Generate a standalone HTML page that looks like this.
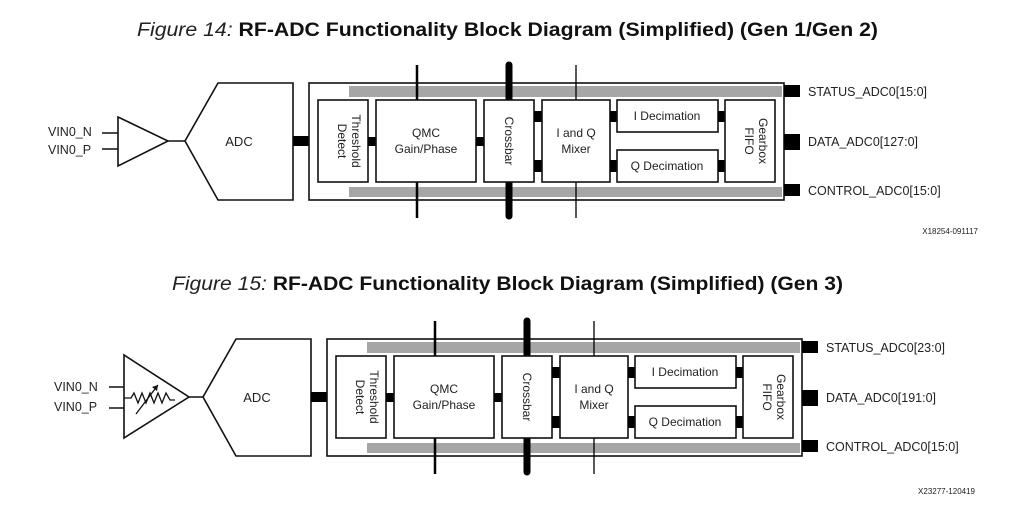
<!DOCTYPE html>
<html><head><meta charset="utf-8"><style>
html,body{margin:0;padding:0;background:#fff;}
svg{display:block;font-family:"Liberation Sans",sans-serif;}
</style></head><body>
<svg width="1014" height="507" viewBox="0 0 1014 507" xmlns="http://www.w3.org/2000/svg">
<defs>
<g id="blk">
  <path d="M185,141 L218,83 L293,83 L293,200 L218,200 Z" fill="#fff" stroke="#111" stroke-width="1.6"/>
  <text x="239" y="146" font-size="13" text-anchor="middle" fill="#222">ADC</text>
  <rect x="293" y="136" width="17" height="10" fill="#000"/>
  <rect x="309" y="83" width="475" height="117" fill="#fff" stroke="#111" stroke-width="1.6"/>
  <rect x="349" y="86" width="433" height="11" fill="#a6a6a6"/>
  <rect x="349" y="187" width="433" height="10" fill="#a6a6a6"/>
  <line x1="417" y1="65" x2="417" y2="218" stroke="#000" stroke-width="2.5"/>
  <line x1="509" y1="65" x2="509" y2="216" stroke="#000" stroke-width="7" stroke-linecap="round"/>
  <line x1="576" y1="65" x2="576" y2="218" stroke="#000" stroke-width="1.3"/>
  <rect x="318" y="100" width="50" height="82" fill="#fff" stroke="#111" stroke-width="1.6"/>
  <rect x="368" y="137" width="8" height="9" fill="#000"/>
  <rect x="376" y="100" width="100" height="82" fill="#fff" stroke="#111" stroke-width="1.6"/>
  <rect x="476" y="137" width="8" height="9" fill="#000"/>
  <rect x="484" y="100" width="50" height="82" fill="#fff" stroke="#111" stroke-width="1.6"/>
  <rect x="534" y="111" width="8" height="11" fill="#000"/>
  <rect x="534" y="160" width="8" height="12" fill="#000"/>
  <rect x="542" y="100" width="68" height="82" fill="#fff" stroke="#111" stroke-width="1.6"/>
  <rect x="610" y="111" width="7" height="11" fill="#000"/>
  <rect x="610" y="160" width="7" height="12" fill="#000"/>
  <rect x="617" y="100" width="101" height="32" fill="#fff" stroke="#111" stroke-width="1.6"/>
  <rect x="617" y="150" width="101" height="32" fill="#fff" stroke="#111" stroke-width="1.6"/>
  <rect x="718" y="111" width="7" height="11" fill="#000"/>
  <rect x="718" y="160" width="7" height="12" fill="#000"/>
  <rect x="725" y="100" width="50" height="82" fill="#fff" stroke="#111" stroke-width="1.6"/>
  <g font-size="12" fill="#222" text-anchor="middle">
    <text transform="translate(338,141) rotate(90)">Detect</text>
    <text transform="translate(352,141) rotate(90)">Threshold</text>
    <text x="426" y="137">QMC</text>
    <text x="426" y="153">Gain/Phase</text>
    <text transform="translate(505,141) rotate(90)">Crossbar</text>
    <text x="576" y="137">I and Q</text>
    <text x="576" y="153">Mixer</text>
    <text x="667" y="120">I Decimation</text>
    <text x="667" y="170">Q Decimation</text>
    <text transform="translate(745,141) rotate(90)">FIFO</text>
    <text transform="translate(759,141) rotate(90)">Gearbox</text>
  </g>
  <rect x="784" y="85" width="16" height="12" fill="#000"/>
  <rect x="784" y="134" width="16" height="16" fill="#000"/>
  <rect x="784" y="184" width="16" height="12" fill="#000"/>
</g>
</defs>

<text x="137" y="36" font-size="19" fill="#222" textLength="741" lengthAdjust="spacingAndGlyphs"><tspan font-style="italic">Figure 14:</tspan><tspan font-weight="bold" fill="#111"> RF-ADC Functionality Block Diagram (Simplified) (Gen 1/Gen 2)</tspan></text>
<text x="48" y="136" font-size="12.5" fill="#222">VIN0_N</text>
<text x="48" y="154" font-size="12.5" fill="#222">VIN0_P</text>
<line x1="102" y1="133" x2="118" y2="133" stroke="#111" stroke-width="1.5"/>
<line x1="102" y1="149" x2="118" y2="149" stroke="#111" stroke-width="1.5"/>
<path d="M118,117 L118,166 L168,141 Z" fill="#fff" stroke="#111" stroke-width="1.6"/>
<line x1="168" y1="141" x2="185" y2="141" stroke="#111" stroke-width="1.5"/>
<use href="#blk"/>
<g font-size="12.5" fill="#222">
<text x="808" y="96">STATUS_ADC0[15:0]</text>
<text x="808" y="146">DATA_ADC0[127:0]</text>
<text x="808" y="195">CONTROL_ADC0[15:0]</text>
</g>
<text x="978" y="234" font-size="8" fill="#222" text-anchor="end">X18254-091117</text>

<text x="172" y="290" font-size="19" fill="#222" textLength="671" lengthAdjust="spacingAndGlyphs"><tspan font-style="italic">Figure 15:</tspan><tspan font-weight="bold" fill="#111"> RF-ADC Functionality Block Diagram (Simplified) (Gen 3)</tspan></text>
<text x="54" y="391" font-size="12.5" fill="#222">VIN0_N</text>
<text x="54" y="411" font-size="12.5" fill="#222">VIN0_P</text>
<line x1="109" y1="387" x2="124" y2="387" stroke="#111" stroke-width="1.5"/>
<line x1="109" y1="408" x2="124" y2="408" stroke="#111" stroke-width="1.5"/>
<path d="M124,355 L124,438 L189,397 Z" fill="#fff" stroke="#111" stroke-width="1.6"/>
<path d="M124,398 L131,398 L134,393 L138,403 L142,393 L146,403 L150,393 L154,403 L158,393 L162,403 L166,393 L170,400 L175,400" fill="none" stroke="#111" stroke-width="1.3"/>
<line x1="136" y1="414" x2="158" y2="385" stroke="#111" stroke-width="1.3"/>
<path d="M158,385 L152,387 L157,391 Z" fill="#111"/>
<line x1="189" y1="397" x2="203" y2="397" stroke="#111" stroke-width="1.5"/>
<g transform="translate(18,256)"><use href="#blk"/></g>
<g font-size="12.5" fill="#222">
<text x="826" y="352">STATUS_ADC0[23:0]</text>
<text x="826" y="402">DATA_ADC0[191:0]</text>
<text x="826" y="451">CONTROL_ADC0[15:0]</text>
</g>
<text x="975" y="494" font-size="8" fill="#222" text-anchor="end">X23277-120419</text>
</svg>
</body></html>
